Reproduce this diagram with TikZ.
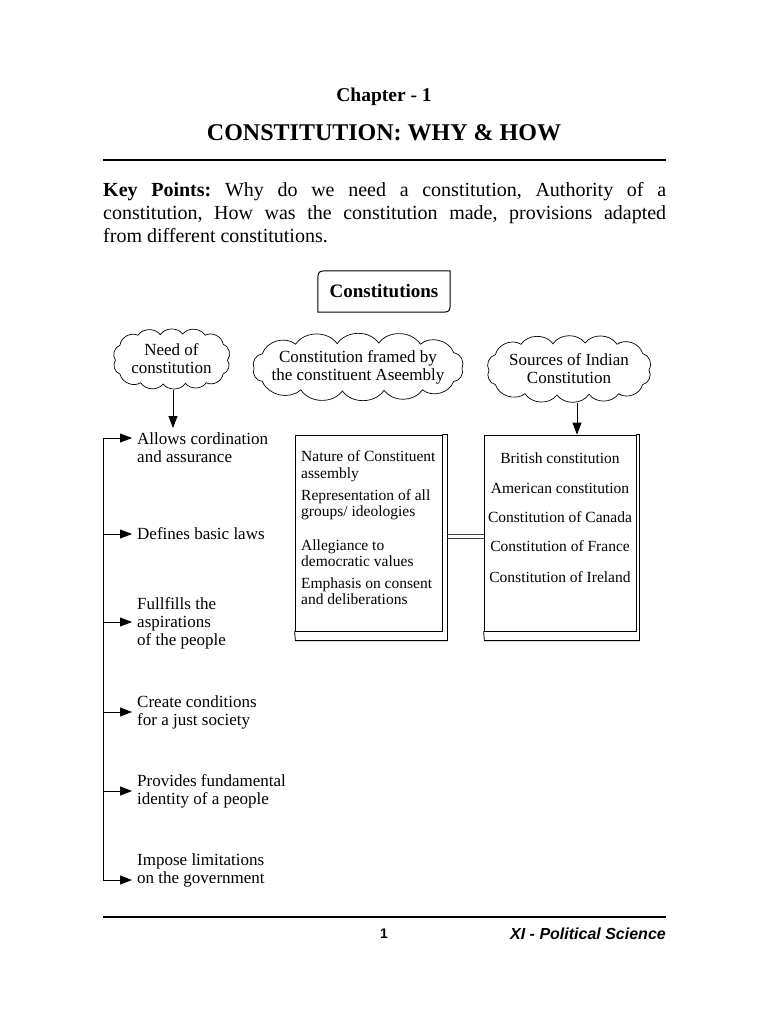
\documentclass[tikz,border=0pt]{standalone}
\usepackage{fontspec}
\setmainfont{Liberation Serif}
\newfontfamily\footfont{Liberation Sans}
\usetikzlibrary{arrows.meta, calc}
\newcommand\cloudline[3]{%
 \draw[cloudedge] ($(#1)+({#2*1.0},{#3*0.05})$)
  \foreach \u/\v in {0.92/-0.6, 0.6/-0.95, 0.2/-1, -0.2/-0.97, -0.6/-0.95, -0.92/-0.55,
                     -1.0/0.05, -0.92/0.6, -0.55/0.95, -0.15/1, 0.25/0.97, 0.62/0.95,
                     0.92/0.6, 1.0/0.05}
   { to[bend right=55] ($(#1)+({#2*\u},{#3*\v})$) };}
\begin{document}
\begin{tikzpicture}[x=1pt,y=-1pt,
  cloudedge/.style={line width=0.7pt, line join=miter},
  cloudtext/.style={inner sep=0pt, align=center, font=\fontsize{17}{18}\selectfont},
  listtext/.style={anchor=west, inner sep=0pt, align=left, font=\fontsize{17}{18}\selectfont},
  boxtext/.style={anchor=west, inner sep=0pt, align=left, font=\fontsize{15.5}{16.5}\selectfont},
  srctext/.style={inner sep=0pt, align=center, font=\fontsize{15.5}{16.5}\selectfont},
  frame/.style={draw, line width=0.8pt, inner sep=0pt},
  arr/.style={-{Triangle[length=12pt,width=9pt]}, line width=0.8pt},
  rule/.style={line width=1.8pt}]
\useasboundingbox (0,0) rectangle (768,1024);
\fill[white] (0,0) rectangle (768,1024);

% heading
\node[inner sep=0pt, font=\fontsize{19.5}{22}\selectfont\bfseries] (chap) at (384,97) {Chapter - 1};
\node[inner sep=0pt, font=\fontsize{24}{27}\selectfont\bfseries] (title) at (384,133) {CONSTITUTION: WHY \& HOW};
\coordinate (tl) at (103,160);
\coordinate (tr) at (666,160);
\draw[rule] (tl) -- (tr);

% key points
\node[anchor=north west, inner sep=0pt, text width=563pt, align=justify,
      font=\fontsize{20}{23}\selectfont] (kp) at (103,182)
  {\frenchspacing\textbf{Key Points:} Why do we need a constitution, Authority of a\linebreak
   constitution, How was the constitution made, provisions adapted\linebreak
   from different constitutions.};

% constitutions box
\node[inner sep=0pt, minimum width=132pt, minimum height=41pt,
      font=\fontsize{19}{21}\selectfont\bfseries] (const) at (384,291.5) {Constitutions};
\draw[line width=1pt] (const.south west) -- ($(const.north west)+(0,12)$)
  .. controls (const.north west) .. ($(const.north west)+(12,0)$)
  -- (const.north east) -- ($(const.south east)+(0,-12)$)
  .. controls (const.south east) .. ($(const.south east)+(-12,0)$) -- cycle;

% clouds
\node[cloudtext] (needc) at (171.5,359) {Need of\\constitution};
\cloudline{needc.center}{56}{25}
\node[cloudtext] (framec) at (358,367) {Constitution framed by\\the constituent Aseembly};
\cloudline{framec.center}{104}{24}
\node[cloudtext] (srcc) at (569,369) {Sources of Indian\\Constitution};
\cloudline{srcc.center}{80}{26}

% left list
\node[listtext] (n1) at (137,448) {Allows cordination\\and assurance};
\node[listtext] (n2) at (137,534) {Defines basic laws};
\node[listtext] (n3) at (137,623) {Fullfills the\\aspirations\\of the people};
\node[listtext] (n4) at (137,712) {Create conditions\\for a just society};
\node[listtext] (n5) at (137,791) {Provides fundamental\\identity of a people};
\node[listtext] (n6) at (137,870) {Impose limitations\\on the government};

\coordinate (a1) at (103,438);
\coordinate (a2) at (103,534);
\coordinate (a3) at (103,622);
\coordinate (a4) at (103,712);
\coordinate (a5) at (103,791);
\coordinate (a6) at (103,880);
\draw[line width=0.8pt] (a1) -- (a6);
\foreach \i in {1,...,6}{
  \draw[arr, shorten >=5pt] (a\i) -- (a\i -| n\i.west);
}
\coordinate (needtop) at (173,390);
\coordinate (needend) at (173,428);
\draw[arr] (needtop) -- (needend);

% middle box
\node[frame, minimum width=147pt, minimum height=196pt] (mbox) at (368.5,533) {};
\draw[line width=0.8pt] (mbox.north east) -- ++(5,0) -- ++(0,206) -- ++(-152,0) -- (mbox.south west);
\node[boxtext] (m1) at (301,466) {Nature of Constituent\\assembly};
\node[boxtext] (m2) at (301,504.5) {Representation of all\\groups/ ideologies};
\node[boxtext] (m3) at (301,553) {Allegiance to\\democratic values};
\node[boxtext] (m4) at (301,591) {Emphasis on consent\\and deliberations};

% right box
\node[frame, minimum width=152pt, minimum height=196pt] (rbox) at (560,533) {};
\draw[line width=0.8pt] (rbox.north east) -- ++(3,0) -- ++(0,206) -- ++(-155,0) -- (rbox.south west);
\node[srctext] (r1) at (560,458) {British constitution};
\node[srctext] (r2) at (560,488) {American constitution};
\node[srctext] (r3) at (560,517) {Constitution of Canada};
\node[srctext] (r4) at (560,546) {Constitution of France};
\node[srctext] (r5) at (560,577) {Constitution of Ireland};

\coordinate (sa) at (577,403);
\draw[arr] (sa) -- (rbox.north -| sa);

% double connector
\draw[line width=0.8pt, draw=black!75] ($(mbox.east)+(5,1)$) -- ($(rbox.west)+(0,1)$);
\draw[line width=0.8pt, draw=black!75] ($(mbox.east)+(5,5)$) -- ($(rbox.west)+(0,5)$);

% footer
\coordinate (fl) at (103,917);
\coordinate (fr) at (666,917);
\draw[line width=1.5pt] (fl) -- (fr);
\node[inner sep=0pt, font=\footfont\fontsize{14}{16}\selectfont\bfseries] (pg) at (384,934) {1};
\node[anchor=east, inner sep=0pt, font=\footfont\fontsize{16}{18}\selectfont\bfseries\itshape] (sub) at (666,934) {XI - Political Science};
\end{tikzpicture}
\end{document}
